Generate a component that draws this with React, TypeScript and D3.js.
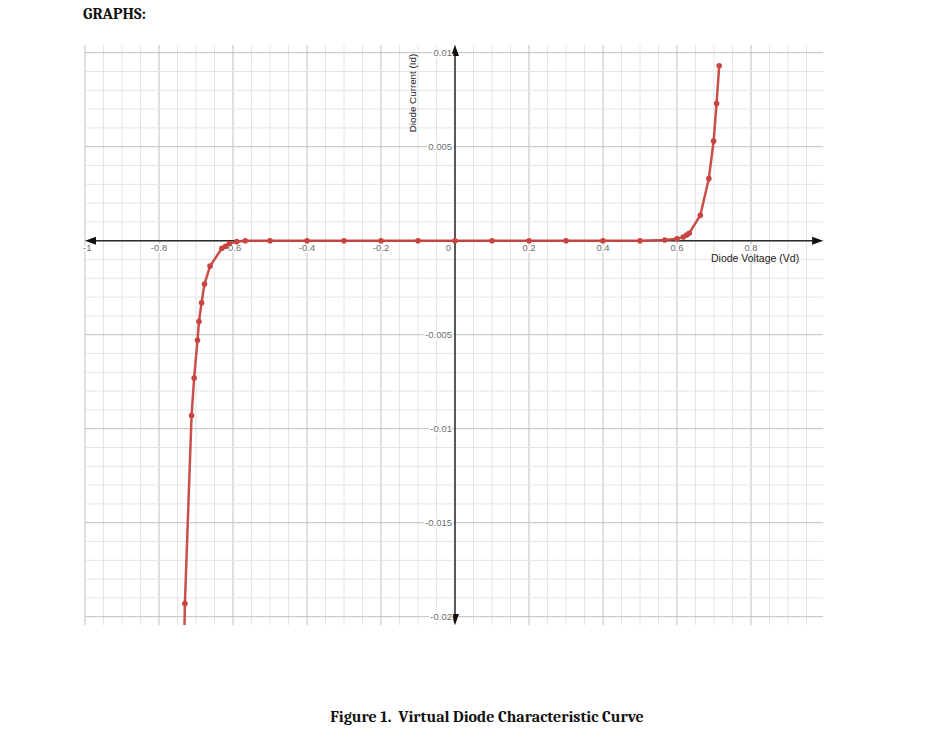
import React, { useEffect, useRef } from 'react'
import * as d3 from 'd3'

// measured points (Vd in volts, Id in amps)
const voltage = [
    -0.74, -0.73, -0.712, -0.705, -0.696, -0.692, -0.685, -0.677, -0.662, -0.63, -0.62, -0.61, -0.59, -0.567,
    -0.5, -0.4, -0.3, -0.2, -0.1, 0, 0.1, 0.2, 0.3, 0.4, 0.5,
    0.567, 0.6, 0.617, 0.626, 0.633, 0.663, 0.686, 0.699, 0.707, 0.714
]
const current = [
    -0.03, -0.0193, -0.0093, -0.0073, -0.0053, -0.0043, -0.0033, -0.0023, -0.00135, -0.0004, -0.0003, -0.00015, -0.00005, 0,
    0, 0, 0, 0, 0, 0, 0, 0, 0, 0, 0,
    0.00004, 0.0001, 0.0002, 0.0003, 0.0004, 0.00135, 0.0033, 0.0053, 0.0073, 0.0093
]
const xTickLabels = ['-1', '-0.8', '-0.6', '-0.4', '-0.2', '0.2', '0.4', '0.6', '0.8']
const yTickLabels = ['0.01', '0.005', '-0.005', '-0.01', '-0.015', '-0.02']

export default function App() {
    const ref = useRef<SVGSVGElement | null>(null)

    const width = 929
    const height = 737

    function drawGraph() {
        var svg = d3.select(ref.current)
        svg.selectAll('*').remove()

        var x = d3.scaleLinear().domain([-1, 1]).range([85, 825])
        var y = d3.scaleLinear().domain([0.01, -0.02]).range([52.7, 616.7])

        // visible window of the graph paper
        var xMin = -1, xMax = 0.995
        var yMin = -0.02044, yMax = 0.01041

        var sans = "'Liberation Sans', Arial, sans-serif"
        var serif = "Cambria, 'Liberation Serif', 'DejaVu Serif', serif"

        svg.append('text')
            .attr('x', 83).attr('y', 19)
            .attr('font-family', serif).attr('font-weight', 'bold').attr('font-size', 16)
            .attr('fill', '#111')
            .text('GRAPHS:')

        var g = svg.append('g')

        // grid
        var xMinor = d3.range(-20, 21).map(k => k * 0.05).filter(v => v >= xMin - 1e-9 && v <= xMax)
        var yMinor = d3.range(-20, 11).map(k => k * 0.001)

        g.selectAll('line.xg')
            .data(xMinor)
            .enter().append('line')
            .attr('x1', d => x(d)).attr('x2', d => x(d))
            .attr('y1', y(yMax)).attr('y2', y(yMin))
            .attr('stroke', d => Math.abs(Math.round(d / 0.05)) % 4 === 0 ? '#c0c0c0' : '#e4e4e4')
            .attr('stroke-width', 1)

        g.selectAll('line.yg')
            .data(yMinor)
            .enter().append('line')
            .attr('y1', d => y(d)).attr('y2', d => y(d))
            .attr('x1', x(xMin)).attr('x2', x(xMax))
            .attr('stroke', d => Math.abs(Math.round(d / 0.001)) % 5 === 0 ? '#c0c0c0' : '#e4e4e4')
            .attr('stroke-width', 1)

        // axes with arrows
        var axisColor = '#2b2b2b'
        g.append('line')
            .attr('x1', x(xMin) + 4).attr('x2', x(xMax) - 4)
            .attr('y1', y(0)).attr('y2', y(0))
            .attr('stroke', axisColor).attr('stroke-width', 1.5)
        g.append('line')
            .attr('x1', x(0)).attr('x2', x(0))
            .attr('y1', y(yMax) + 4).attr('y2', y(yMin) - 4)
            .attr('stroke', axisColor).attr('stroke-width', 1.5)

        var arrows = [
            [[x(xMax), y(0)], [x(xMax) - 11, y(0) - 4], [x(xMax) - 11, y(0) + 4]],
            [[x(xMin), y(0)], [x(xMin) + 11, y(0) - 4], [x(xMin) + 11, y(0) + 4]],
            [[x(0), y(yMax)], [x(0) - 4, y(yMax) + 11], [x(0) + 4, y(yMax) + 11]],
            [[x(0), y(yMin)], [x(0) - 4, y(yMin) - 11], [x(0) + 4, y(yMin) - 11]]
        ]
        g.selectAll('path.arrow')
            .data(arrows)
            .enter().append('path')
            .attr('d', d => 'M' + d.map(p => p.join(',')).join('L') + 'Z')
            .attr('fill', '#111')

        // tick labels
        var labelColor = '#6e6e6e'
        g.selectAll('text.xt')
            .data(xTickLabels)
            .enter().append('text')
            .attr('x', d => +d === -1 ? x(-1) - 2 : x(+d))
            .attr('y', y(0) + 10.5)
            .attr('text-anchor', d => +d === -1 ? 'start' : 'middle')
            .attr('font-family', sans).attr('font-size', 9.5)
            .attr('fill', labelColor)
            .attr('stroke', 'white').attr('stroke-width', 3).attr('paint-order', 'stroke')
            .text(d => d)

        g.append('text')
            .attr('x', x(0) - 4).attr('y', y(0) + 10.5)
            .attr('text-anchor', 'end')
            .attr('font-family', sans).attr('font-size', 9.5)
            .attr('fill', labelColor)
            .attr('stroke', 'white').attr('stroke-width', 3).attr('paint-order', 'stroke')
            .text('0')

        g.selectAll('text.yt')
            .data(yTickLabels)
            .enter().append('text')
            .attr('x', x(0) - 3)
            .attr('y', d => y(+d) + 3.5)
            .attr('text-anchor', 'end')
            .attr('font-family', sans).attr('font-size', 9.5)
            .attr('fill', labelColor)
            .attr('stroke', 'white').attr('stroke-width', 3).attr('paint-order', 'stroke')
            .text(d => d)

        // axis titles
        g.append('text')
            .attr('transform', 'translate(' + 416 + ',' + 93 + ') rotate(-90)')
            .attr('text-anchor', 'middle')
            .attr('font-family', sans).attr('font-size', 9.8)
            .attr('fill', '#222')
            .text('Diode Current (Id)')

        g.append('text')
            .attr('x', 711).attr('y', 262)
            .attr('font-family', sans).attr('font-size', 10.5)
            .attr('fill', '#222')
            .text('Diode Voltage (Vd)')

        // data curve, clipped to graph paper
        svg.append('clipPath').attr('id', 'paper')
            .append('rect')
            .attr('x', x(xMin)).attr('y', y(yMax))
            .attr('width', x(xMax) - x(xMin)).attr('height', y(yMin) - y(yMax))

        var pts = voltage.map((v, i) => [v, current[i]] as [number, number])
        var line = d3.line<[number, number]>()
            .x(d => x(d[0]))
            .y(d => y(d[1]))

        var curve = svg.append('g').attr('clip-path', 'url(#paper)')
        curve.append('path')
            .datum(pts)
            .attr('d', line)
            .attr('fill', 'none')
            .attr('stroke', '#c74440')
            .attr('stroke-width', 2.5)
            .attr('stroke-linejoin', 'round')
            .attr('opacity', 0.95)

        curve.selectAll('circle')
            .data(pts)
            .enter().append('circle')
            .attr('cx', d => x(d[0]))
            .attr('cy', d => y(d[1]))
            .attr('r', 2.8)
            .attr('fill', '#c74440')

        svg.append('text')
            .attr('x', 487).attr('y', 722)
            .attr('text-anchor', 'middle')
            .attr('font-family', serif).attr('font-weight', 'bold').attr('font-size', 16)
            .attr('fill', '#111')
            .attr('xml:space', 'preserve')
            .style('white-space', 'pre')
            .text('Figure 1.  Virtual Diode Characteristic Curve')
    }

    useEffect(() => {
        drawGraph()
    }, [])

    return (
        <div>
            <svg ref={ref} width={width} height={height}
                style={{ position: 'absolute', left: 0, top: 0, background: 'white' }} />
        </div>
    )
}
